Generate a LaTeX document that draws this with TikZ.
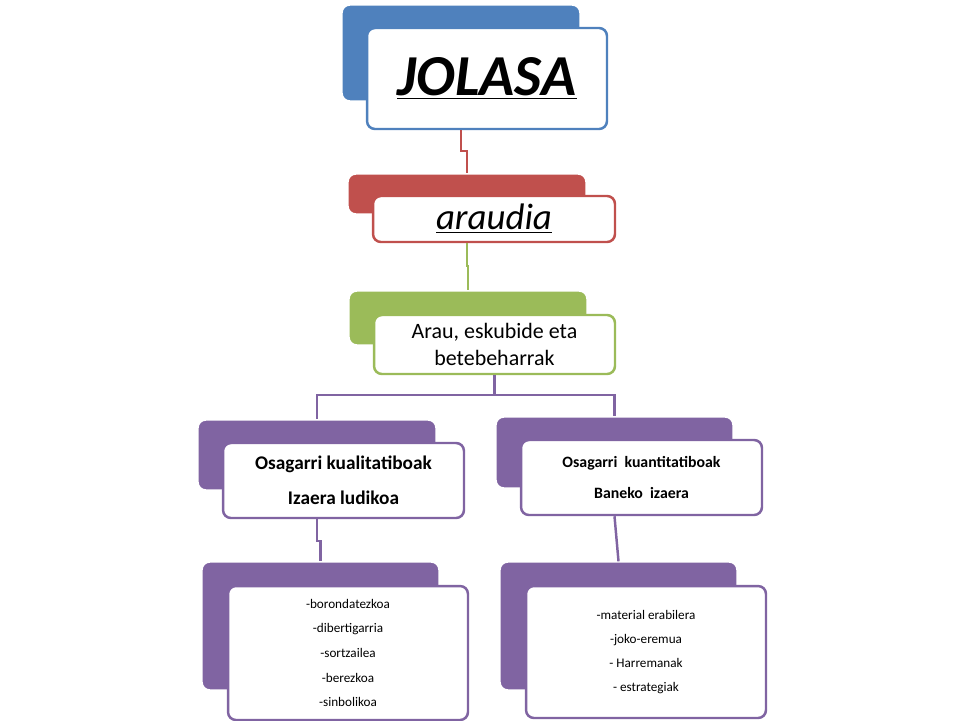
\documentclass[tikz,border=0pt]{standalone}
\usepackage{fontspec}
\setmainfont{Carlito}
\usepackage{xcolor}
\usetikzlibrary{positioning,calc}
\definecolor{blueA}{HTML}{4F81BD}
\definecolor{redA}{HTML}{C0504D}
\definecolor{greenA}{HTML}{9BBB59}
\definecolor{purpleA}{HTML}{8064A2}
\tikzset{
  back/.style={rectangle, rounded corners=4.5pt, fill=#1, draw=white, line width=0.8pt},
  front/.style={rectangle, rounded corners=4.5pt, fill=white, draw=#1, line width=1.4pt, align=center, inner sep=2pt},
  link/.style={draw=#1, line width=1.4pt}
}
\begin{document}
\begin{tikzpicture}[x=0.02cm, y=-0.02cm]
        % Frame
        \useasboundingbox (0,0) rectangle (960,720);

        % Top level
        \node[back=blueA, minimum width=4.76cm, minimum height=1.92cm] (b1) at (461,53) {};
        \node[front=blueA, minimum width=4.8cm, minimum height=2.02cm, font=\fontsize{33}{36}\selectfont\bfseries\itshape] (f1) at (487,78.5) {\underline{JOLASA}};

        % Second level
        \node[back=redA, minimum width=4.76cm, minimum height=0.8cm] (b2) at (467,194) {};
        \node[front=redA, minimum width=4.84cm, minimum height=0.92cm, font=\fontsize{21}{24}\selectfont\itshape] (f2) at (494,219) {\underline{araudia}};

        % Third level
        \node[back=greenA, minimum width=4.76cm, minimum height=1.08cm] (b3) at (468,318) {};
        \node[front=greenA, minimum width=4.82cm, minimum height=1.18cm, font=\fontsize{12.5}{15.5}\selectfont] (f3) at (494.5,344.5) {Arau, eskubide eta\\betebeharrak};

        % Fourth level
        \node[back=purpleA, minimum width=4.76cm, minimum height=1.4cm] (b4) at (317,455) {};
        \node[front=purpleA, minimum width=4.82cm, minimum height=1.5cm, font=\fontsize{11}{20}\selectfont\bfseries] (f4) at (343.5,480.5) {Osagarri kualitatiboak\\Izaera ludikoa};
        \node[back=purpleA, minimum width=4.74cm, minimum height=1.42cm] (b5) at (614.5,452.5) {};
        \node[front=purpleA, minimum width=4.82cm, minimum height=1.5cm, font=\fontsize{9}{18}\selectfont\bfseries] (f5) at (641.5,477.5) {Osagarri\ \ kuantitatiboak\\Baneko\ \ izaera};

        % Bottom level
        \node[back=purpleA, minimum width=4.74cm, minimum height=2.56cm] (b6) at (320.5,626) {};
        \node[front=purpleA, minimum width=4.8cm, minimum height=2.68cm, font=\fontsize{7.5}{14}\selectfont] (f6) at (348,653) {-borondatezkoa\\-dibertigarria\\-sortzailea\\-berezkoa\\-sinbolikoa};
        \node[back=purpleA, minimum width=4.74cm, minimum height=2.56cm] (b7) at (618.5,626) {};
        \node[front=purpleA, minimum width=4.8cm, minimum height=2.64cm, font=\fontsize{7.5}{13.5}\selectfont] (f7) at (646,652) {-material erabilera\\-joko-eremua\\- Harremanak\\- estrategiak};

        % Connectors
        \draw[link=redA] (f1.south -| b1.south) -- ++(0,21) -| (b2.north);
        \draw[link=greenA] (f2.south -| b2.south) -- ++(0,23) -| (b3.north);
        \draw[link=purpleA] (f3.south) -- ++(0,20) -| (b4.north);
        \draw[link=purpleA] (f3.south) -- ++(0,20) -| (b5.north);
        \draw[link=purpleA] (f4.south -| b4.south) -- ++(0,22) -| (b6.north);
        \draw[link=purpleA] (f5.south -| b5.south) -- (b7.north);
\end{tikzpicture}
\end{document}
